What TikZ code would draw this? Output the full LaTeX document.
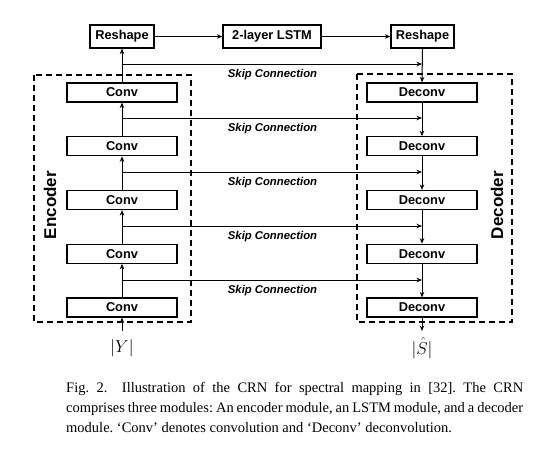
\documentclass[tikz,border=0pt]{standalone}
\usepackage{fontspec}
\setmainfont{Liberation Serif}
\newfontfamily\arialfont{Liberation Sans}
\usetikzlibrary{arrows.meta}
\newcommand\captionfont{\fontsize{14.5}{20}\selectfont}
\begin{document}
\begin{tikzpicture}[x=1pt,y=-1pt,
  box/.style={draw,line width=1.2pt,minimum height=23pt,inner sep=0pt,
    font=\arialfont\bfseries\fontsize{12.8}{14}\selectfont},
  layer/.style={draw,line width=1.2pt,minimum width=110pt,minimum height=19pt,inner sep=0pt,
    font=\arialfont\bfseries\fontsize{12.8}{14}\selectfont},
  arr/.style={line width=1pt,-{Stealth[length=5.5pt,width=4.5pt]}},
  skipline/.style={line width=1pt,-{Stealth[length=5.5pt,width=4.5pt]}},
  skiplabel/.style={font=\arialfont\bfseries\itshape\fontsize{11.3}{13}\selectfont,inner sep=0pt},
  module/.style={draw,dashed,dash pattern=on 6pt off 4pt,line width=1.2pt},
  modlabel/.style={font=\arialfont\bfseries\fontsize{17}{19}\selectfont,rotate=90,inner sep=0pt},
  mathlabel/.style={font=\fontsize{17}{19}\selectfont,inner sep=0pt}]
\useasboundingbox (0,0) rectangle (543,450);
\fill[black!0.5] (33,23) rectangle (515,360);
% dashed module frames
\draw[module] (34,75) rectangle (191,322);
\draw[module] (357,74) rectangle (512,322);
\node[modlabel] (enc) at (50,205) {Encoder};
\node[modlabel] (dec) at (497,205) {Decoder};
% top row
\node[box,minimum width=64pt] (reshL) at (122,36.5) {Reshape};
\node[box,minimum width=98pt] (lstm) at (272,36.5) {2-layer LSTM};
\node[box,minimum width=63pt] (reshR) at (422.5,36.5) {Reshape};
\draw[arr] (reshL) -- (lstm);
\draw[arr] (lstm) -- (reshR);
% encoder / decoder layers
\foreach \i/\y in {1/92.5,2/146.25,3/200,4/253.75,5/307.5}{
  \node[layer] (conv\i) at (122,\y) {Conv};
  \node[layer] (deconv\i) at (422,\y) {Deconv};
}
% encoder upward flow
\draw[arr] (conv1.north) -- (reshL.south);
\draw[arr] (conv2.north) -- (conv1.south);
\draw[arr] (conv3.north) -- (conv2.south);
\draw[arr] (conv4.north) -- (conv3.south);
\draw[arr] (conv5.north) -- (conv4.south);
% decoder downward flow
\draw[arr] (reshR.south) -- (deconv1.north);
\draw[arr] (deconv1.south) -- (deconv2.north);
\draw[arr] (deconv2.south) -- (deconv3.north);
\draw[arr] (deconv3.south) -- (deconv4.north);
\draw[arr] (deconv4.south) -- (deconv5.north);
% skip connections
\foreach \k/\y in {0/64,1/118,2/172,3/226,4/280}{
  \coordinate (es\k) at (122,\y);
  \coordinate (ds\k) at (422,\y);
  \draw[skipline] (es\k) -- (ds\k);
  \node[skiplabel] (sl\k) at (272.5,\y+11) {Skip Connection};
}
% input / output
\node[mathlabel] (Y) at (122,348) {$|Y|$};
\node[mathlabel] (S) at (422,348) {$|\hat{S}|$};
\coordinate (yin) at (122,331);
\coordinate (sout) at (422,331);
\draw[arr] (yin) -- (conv5.south);
\draw[arr] (deconv5.south) -- (sout);
% caption
\node[anchor=north west,inner sep=0pt,text width=457pt,align=justify,
  font=\captionfont] (cap) at (66,382)
  {\frenchspacing\hyphenpenalty=10000\relax\exhyphenpenalty=10000\relax
   Fig.~2.\hspace{1em}Illustration of the CRN for spectral mapping in [32]. The CRN\linebreak comprises three modules: An encoder module, an LSTM module, and a decoder\linebreak module. ‘Conv’ denotes convolution and ‘Deconv’ deconvolution.};
\end{tikzpicture}
\end{document}
